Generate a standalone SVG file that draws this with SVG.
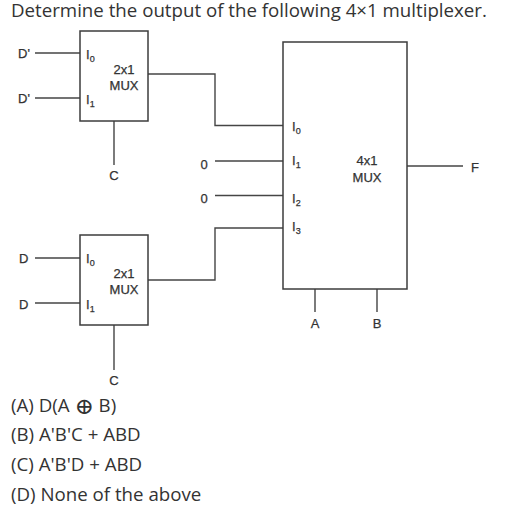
<svg xmlns="http://www.w3.org/2000/svg" width="518" height="518" viewBox="0 0 518 518">
<style>
.box{fill:#fff;stroke:#3c3c3c;stroke-width:1.5}
.w{fill:none;stroke:#454545;stroke-width:1.4}
.l{font-family:"Liberation Sans",Arial,sans-serif;font-size:13px;fill:#333;stroke:#333;stroke-width:.25}
.m{text-anchor:middle}
.s{font-size:9px}
.q{font-family:"Open Sans",sans-serif;font-size:18.7px;fill:#333}
.x{font-family:"DejaVu Sans Light","DejaVu Serif","DejaVu Sans",sans-serif;font-size:23px;font-weight:200}
</style>
<rect width="518" height="518" fill="#fff"/>
<g id="connectors">
<path class="w" d="M35 53H80M35 98H80M114 121V165M148 74H215V125.500H283M215 161H283M215 195.500H283M35 258H80M35 303H80M114 325V370M148 280H215V228H283M407 166H463M315 289V312M377 289V312"/>
</g>
<g id="mux-top">
<rect class="box" x="80" y="31" width="68" height="90"/>
<text class="l" x="86" y="59">I<tspan class="s" dy="3">0</tspan></text>
<text class="l" x="86" y="104">I<tspan class="s" dy="3">1</tspan></text>
<text class="l m" x="124" y="74">2x1</text>
<text class="l m" x="124" y="90">MUX</text>
</g>
<g id="mux-bottom">
<rect class="box" x="80" y="235" width="68" height="90"/>
<text class="l" x="86" y="263">I<tspan class="s" dy="3">0</tspan></text>
<text class="l" x="86" y="309">I<tspan class="s" dy="3">1</tspan></text>
<text class="l m" x="124" y="278">2x1</text>
<text class="l m" x="124" y="294">MUX</text>
</g>
<g id="mux-main">
<rect class="box" x="283" y="42" width="124" height="247"/>
<text class="l" x="292" y="131">I<tspan class="s" dy="3">0</tspan></text>
<text class="l" x="292" y="165">I<tspan class="s" dy="3">1</tspan></text>
<text class="l" x="292" y="203">I<tspan class="s" dy="3">2</tspan></text>
<text class="l" x="292" y="231">I<tspan class="s" dy="3">3</tspan></text>
<text class="l m" x="367" y="165">4x1</text>
<text class="l m" x="367" y="182">MUX</text>
</g>
<g id="labels">
<text class="l" x="18" y="58">D'</text>
<text class="l" x="18" y="103">D'</text>
<text class="l m" x="114" y="180">C</text>
<text class="l" x="19" y="263">D</text>
<text class="l" x="19" y="309">D</text>
<text class="l m" x="114" y="385">C</text>
<text class="l m" x="204" y="169">0</text>
<text class="l m" x="204" y="203">0</text>
<text class="l" x="471" y="172">F</text>
<text class="l m" x="315" y="328">A</text>
<text class="l m" x="377" y="328">B</text>
</g>
<g id="question">
<text class="q" x="11" y="17">Determine the output of the following 4×1 multiplexer.</text>
<text class="q" x="11" y="412">(A) D(A <tspan class="x" dy="2">⊕</tspan><tspan dy="-2"> B)</tspan></text>
<text class="q" x="11" y="441">(B) A'B'C + ABD</text>
<text class="q" x="11" y="471">(C) A'B'D + ABD</text>
<text class="q" x="11" y="501">(D) None of the above</text>
</g>
</svg>
